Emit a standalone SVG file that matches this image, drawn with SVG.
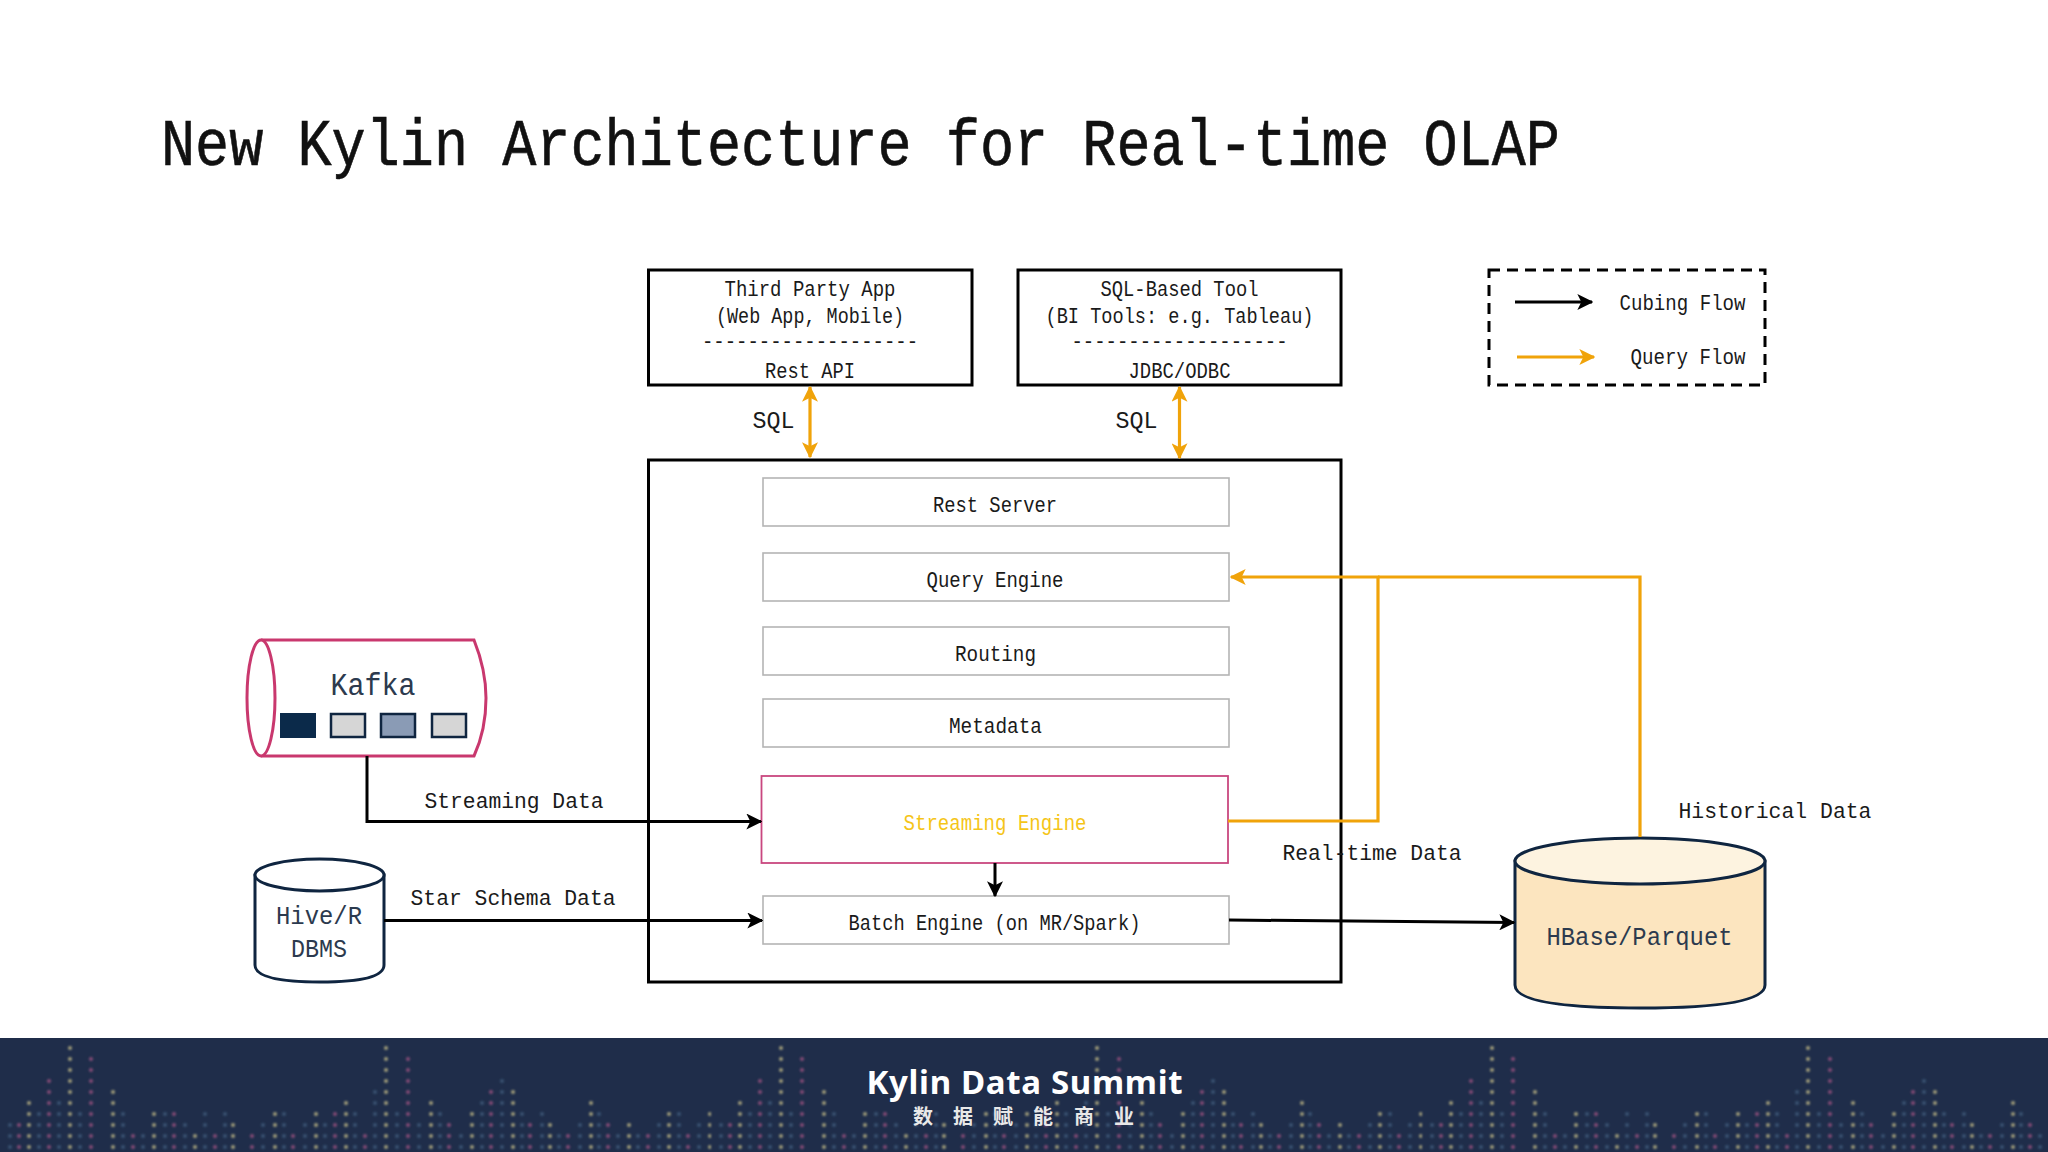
<svg xmlns="http://www.w3.org/2000/svg" width="2048" height="1152" viewBox="0 0 2048 1152">
<style>
text{font-family:"Liberation Mono","DejaVu Sans Mono",monospace;fill:#1a1a1a}
.m{text-anchor:middle}
.s{font-size:22px}
.l{font-size:24px}
.box{fill:#fff;stroke:#000;stroke-width:3}
.inner{fill:#fff;stroke:#b5b5b5;stroke-width:1.6}
.or{fill:none;stroke:#f0a30a;stroke-width:3.2}
.bk{fill:none;stroke:#000;stroke-width:3}
.db{stroke:#0f2540;stroke-width:3}
</style>
<defs>
<marker id="ab" viewBox="0 0 12 12" refX="11" refY="6" markerWidth="16" markerHeight="16" markerUnits="userSpaceOnUse" orient="auto"><path d="M0 0L12 6L0 12L3 6z" fill="#000"/></marker>
<marker id="ao" viewBox="0 0 12 12" refX="11" refY="6" markerWidth="16" markerHeight="16" markerUnits="userSpaceOnUse" orient="auto-start-reverse"><path d="M0 0L12 6L0 12L3 6z" fill="#f0a30a"/></marker>
<filter id="soft" x="0" y="0" width="1" height="1"><feGaussianBlur stdDeviation="0.8"/></filter>
<pattern id="dots" x="0" y="1040" width="711" height="112" patternUnits="userSpaceOnUse">
<g fill="none" stroke-width="4" stroke-dasharray="0.01 11" stroke-linecap="round">
<path d="M10 85V112M39 74V112M59 63V112M80 74V112M123 74V112M143 96V112M165 74V112M185 85V112M205 74V112M225 74V112M263 85V112M284 74V112M305 85V112M325 85V112M355 74V112M375 52V112M397 74V112M419 85V112M440 74V112M461 96V112M482 63V112M502 41V112M522 74V112M542 74V112M559 96V112M580 85V112M599 74V112M618 96V112M638 96V112M659 85V112M679 74V112M699 85V112" stroke="#4a6c8c" stroke-opacity=".6"/>
<path d="M19 85V112M49 41V112M91 19V112M133 96V112M174 74V112M215 96V112M252 96V112M293 96V112M335 74V112M365 96V112M408 19V112M449 85V112M491 52V112M530 85V112M568 96V112M608 85V112M648 96V112M688 96V112" stroke="#96507f" stroke-opacity=".85"/>
<path d="M29 63V112M70 8V112M113 52V112M154 74V112M195 96V112M233 85V112M275 74V112M316 74V112M346 63V112M386 8V112M431 63V112M472 74V112M513 52V112M550 85V112M591 63V112M629 85V112M669 74V112M710 74V112" stroke="#b0aa80" stroke-opacity=".9"/>
</g>
</pattern>
</defs>
<rect width="2048" height="1152" fill="#fff"/>
<text x="161" y="165" font-size="66" textLength="1399" lengthAdjust="spacingAndGlyphs" stroke="#111" stroke-width="0.6" style="fill:#111">New Kylin Architecture for Real-time OLAP</text>

<g id="band">
<rect y="1038" width="2048" height="114" fill="#1f2d4a"/>
<rect y="1038" width="2048" height="114" fill="url(#dots)" filter="url(#soft)"/>
<text x="1024.500" y="1094" class="m" font-size="33" font-weight="700" textLength="316" style="font-family:'Noto Sans',sans-serif;fill:#fff">Kylin Data Summit</text>
<text x="923 963 1003 1043 1084 1124" y="1124" class="m" font-size="20" font-weight="700" style="font-family:'Noto Sans CJK SC',sans-serif;fill:#e8e8e8">数据赋能商业</text>
</g>

<g id="third-party"><rect class="box" x="648.500" y="270" width="323.500" height="115"/>
<text class="m s" x="810" y="296" textLength="171" lengthAdjust="spacingAndGlyphs">Third Party App</text>
<text class="m s" x="810" y="323" textLength="188" lengthAdjust="spacingAndGlyphs">(Web App, Mobile)</text>
<text class="m s" x="810" y="348" textLength="216" lengthAdjust="spacingAndGlyphs">-------------------</text>
<text class="m s" x="810" y="378" textLength="90" lengthAdjust="spacingAndGlyphs">Rest API</text></g>
<g id="sql-tool"><rect class="box" x="1018" y="270" width="323" height="115"/>
<text class="m s" x="1179.500" y="296" textLength="158" lengthAdjust="spacingAndGlyphs">SQL-Based Tool</text>
<text class="m s" x="1179.500" y="323" textLength="268" lengthAdjust="spacingAndGlyphs">(BI Tools: e.g. Tableau)</text>
<text class="m s" x="1179.500" y="348" textLength="216" lengthAdjust="spacingAndGlyphs">-------------------</text>
<text class="m s" x="1179.500" y="378" textLength="102" lengthAdjust="spacingAndGlyphs">JDBC/ODBC</text></g>
<g id="legend"><rect x="1489" y="270" width="276" height="115" fill="#fff" stroke="#000" stroke-width="3" stroke-dasharray="11 7"/>
<text class="s" x="1619.500" y="310" textLength="126" lengthAdjust="spacingAndGlyphs">Cubing Flow</text>
<text class="s" x="1630.500" y="364" textLength="115" lengthAdjust="spacingAndGlyphs">Query Flow</text></g>
<g id="kylin"><rect class="box" x="648.500" y="460" width="692.500" height="522"/></g>
<g id="rest-server"><rect class="inner" x="763" y="478" width="466" height="48"/><text class="m s" x="995" y="512" textLength="124" lengthAdjust="spacingAndGlyphs">Rest Server</text></g>
<g id="query-engine"><rect class="inner" x="763" y="553" width="466" height="48"/><text class="m s" x="995" y="586.500" textLength="137" lengthAdjust="spacingAndGlyphs">Query Engine</text></g>
<g id="routing"><rect class="inner" x="763" y="627" width="466" height="48"/><text class="m s" x="995.500" y="661" textLength="81" lengthAdjust="spacingAndGlyphs">Routing</text></g>
<g id="metadata"><rect class="inner" x="763" y="699" width="466" height="48"/><text class="m s" x="995.500" y="733" textLength="93" lengthAdjust="spacingAndGlyphs">Metadata</text></g>
<g id="streaming-engine"><rect x="761.500" y="776" width="466.500" height="87" fill="#fff" stroke="#c9477f" stroke-width="1.800"/><text class="m s" x="995" y="830" textLength="183" lengthAdjust="spacingAndGlyphs" style="fill:#f5c518">Streaming Engine</text></g>
<g id="batch-engine"><rect class="inner" x="763" y="896" width="466" height="48"/><text class="m s" x="994.500" y="930" textLength="292" lengthAdjust="spacingAndGlyphs">Batch Engine (on MR/Spark)</text></g>

<g id="kafka">
<path d="M261 640H474Q486 670 486 698Q486 730 474 756H261" fill="#fff" stroke="#c9386e" stroke-width="3"/>
<ellipse cx="261" cy="698" rx="14" ry="58" fill="#fff" stroke="#c9386e" stroke-width="3"/>
<text class="m" x="373" y="695" font-size="31" textLength="85" lengthAdjust="spacingAndGlyphs" style="fill:#2c3a4e">Kafka</text>
<rect x="280" y="713" width="36" height="25" fill="#0b2a4a"/>
<rect x="331" y="714" width="34" height="23" fill="#d6d6d6" stroke="#0f2540" stroke-width="2.500"/>
<rect x="381" y="714" width="34" height="23" fill="#8a9bb5" stroke="#0f2540" stroke-width="2.500"/>
<rect x="432" y="714" width="34" height="23" fill="#d6d6d6" stroke="#0f2540" stroke-width="2.500"/>
</g>
<g id="hive">
<path class="db" d="M255 875V965Q255 982 320 982Q384 982 384 965V875z" fill="#fff"/>
<ellipse class="db" cx="319.500" cy="875" rx="64.500" ry="16" fill="#fff"/>
<text class="m" x="319" y="924" font-size="26" textLength="86" lengthAdjust="spacingAndGlyphs" style="fill:#2c3a4e">Hive/R</text>
<text class="m" x="319" y="957" font-size="26" textLength="56" lengthAdjust="spacingAndGlyphs" style="fill:#2c3a4e">DBMS</text>
</g>
<g id="hbase">
<path class="db" d="M1515 861V985Q1515 1008 1640 1008Q1765 1008 1765 985V861z" fill="#fce5bf"/>
<ellipse class="db" cx="1640" cy="861" rx="125" ry="23" fill="#fdf3e0"/>
<text class="m" x="1639.500" y="945" font-size="26" textLength="186" lengthAdjust="spacingAndGlyphs" style="fill:#2c3a4e">HBase/Parquet</text>
</g>

<g id="connectors">
<path class="or" d="M810 387V457" marker-start="url(#ao)" marker-end="url(#ao)"/>
<path class="or" d="M1179.500 387V458" marker-start="url(#ao)" marker-end="url(#ao)"/>
<path class="or" d="M1228 821H1378V577H1231" marker-end="url(#ao)"/>
<path class="or" d="M1640 837V577H1378"/>
<path class="bk" d="M367 756V821.500H761" marker-end="url(#ab)"/>
<path class="bk" d="M384 920.500H762" marker-end="url(#ab)"/>
<path class="bk" d="M1229 920L1514 922.500" marker-end="url(#ab)"/>
<path class="bk" d="M995 863V896" marker-end="url(#ab)"/>
<path class="bk" d="M1515 302H1592" marker-end="url(#ab)"/>
<path class="or" d="M1517 357H1594" marker-end="url(#ao)"/>
</g>

<g id="labels">
<text class="l" x="752.500" y="428" textLength="42" lengthAdjust="spacingAndGlyphs">SQL</text>
<text class="l" x="1115.500" y="428" textLength="42" lengthAdjust="spacingAndGlyphs">SQL</text>
<text class="s" x="424.500" y="808" textLength="179" lengthAdjust="spacingAndGlyphs">Streaming Data</text>
<text class="s" x="410.500" y="905" textLength="205" lengthAdjust="spacingAndGlyphs">Star Schema Data</text>
<text class="s" x="1282.500" y="860" textLength="179" lengthAdjust="spacingAndGlyphs">Real-time Data</text>
<text class="s" x="1678.500" y="818" textLength="193" lengthAdjust="spacingAndGlyphs">Historical Data</text>
</g>
</svg>
